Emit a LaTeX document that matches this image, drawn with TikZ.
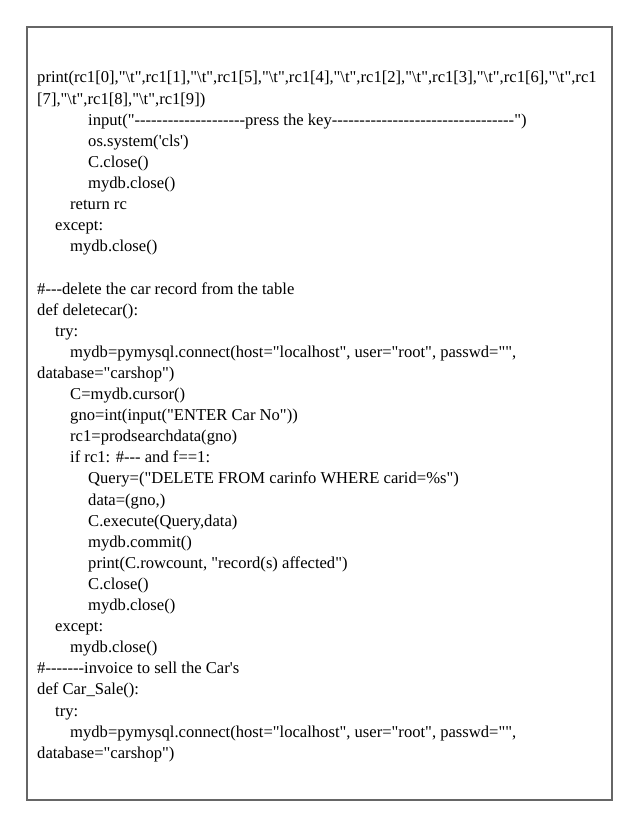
\documentclass[tikz,border=0pt]{standalone}
\usepackage{fontspec}
\setmainfont{Liberation Serif}[Ligatures=TeXOff]
\begin{document}
\begin{tikzpicture}[x=1pt,y=-1pt,
  ln/.style={anchor=base west,inner sep=0pt,font=\fontsize{16.6}{20}\selectfont}]
\useasboundingbox (0,0) rectangle (638,826);
\draw[gray!80!black,line width=1.8pt] (27,27) rectangle (612,800);
\def\T{"\textbackslash t"}
\newcommand\codeln[3]{\node[ln] at (#1,{77+#2*21.1+6}) {#3};}
\codeln{37}{0}{print(rc1[0],\T,rc1[1],\T,rc1[5],\T,rc1[4],\T,rc1[2],\T,rc1[3],\T,rc1[6],\T,rc1}
\codeln{37}{1}{[7],\T,rc1[8],\T,rc1[9])}
\codeln{88}{2}{input("--------------------press the key---------------------------------")}
\codeln{88}{3}{os.system('cls')}
\codeln{88}{4}{C.close()}
\codeln{88}{5}{mydb.close()}
\codeln{70}{6}{return rc}
\codeln{55}{7}{except:}
\codeln{70}{8}{mydb.close()}
\codeln{37}{10}{\#---delete the car record from the table}
\codeln{37}{11}{def deletecar():}
\codeln{55}{12}{try:}
\codeln{70}{13}{mydb=pymysql.connect(host="localhost", user="root", passwd="",}
\codeln{37}{14}{database="carshop")}
\codeln{70}{15}{C=mydb.cursor()}
\codeln{70}{16}{gno=int(input("ENTER Car No"))}
\codeln{70}{17}{rc1=prodsearchdata(gno)}
\codeln{70}{18}{if rc1: \#--- and f==1:}
\codeln{88}{19}{Query=("DELETE FROM carinfo WHERE carid=\%s")}
\codeln{88}{20}{data=(gno,)}
\codeln{88}{21}{C.execute(Query,data)}
\codeln{88}{22}{mydb.commit()}
\codeln{88}{23}{print(C.rowcount, "record(s) affected")}
\codeln{88}{24}{C.close()}
\codeln{88}{25}{mydb.close()}
\codeln{55}{26}{except:}
\codeln{70}{27}{mydb.close()}
\codeln{37}{28}{\#-------invoice to sell the Car's}
\codeln{37}{29}{def Car\_Sale():}
\codeln{55}{30}{try:}
\codeln{70}{31}{mydb=pymysql.connect(host="localhost", user="root", passwd="",}
\codeln{37}{32}{database="carshop")}
\end{tikzpicture}
\end{document}
